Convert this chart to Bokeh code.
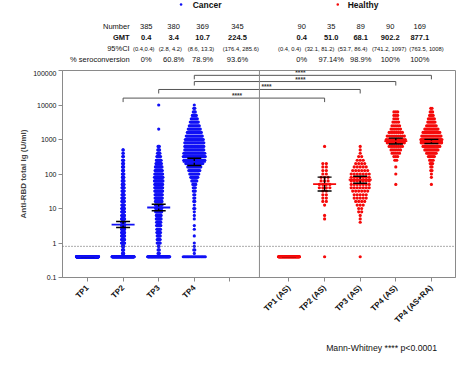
import math
import numpy as np
from bokeh.plotting import figure
from bokeh.layouts import column
from bokeh.models import Range1d, FixedTicker, Span, LinearAxis
from bokeh.embed import file_html
from bokeh.resources import INLINE
from bokeh.core.properties import value

# ---------------- data ----------------
cancer_names = ["TP1", "TP2", "TP3", "TP4"]
healthy_names = ["TP1 (AS)", "TP2 (AS)", "TP3 (AS)", "TP4 (AS)", "TP4 (AS+RA)"]

cancer_n = [385, 380, 369, 345]
cancer_gmt = [0.4, 3.4, 10.7, 224.5]
cancer_ci_low = [0.4, 2.8, 8.6, 176.4]
cancer_ci_high = [0.4, 4.2, 13.3, 285.6]
cancer_ci_text = ["(0.4,0.4)", "(2.8, 4.2)", "(8.6, 13.3)", "(176.4, 285.6)"]
cancer_sero = [0, 60.8, 78.9, 93.6]

healthy_n = [90, 35, 89, 90, 169]
healthy_gmt = [0.4, 51.0, 68.1, 902.2, 877.1]
healthy_ci_low = [0.4, 32.1, 53.7, 741.2, 763.5]
healthy_ci_high = [0.4, 81.2, 86.4, 1097, 1008]
healthy_ci_text = ["(0.4, 0.4)", "(32.1, 81.2)", "(53.7, 86.4)", "(741.2, 1097)", "(763.5, 1008)"]
healthy_sero = [0, 97.14, 98.9, 100, 100]

# individual values, as {value (U/ml): number of points at that value}
cancer_tp1 = {0.4: 385}
cancer_tp2 = {0.4: 145, 0.5: 5, 0.63: 5, 0.8: 5, 1: 11, 1.26: 11, 1.6: 11, 2: 11,
              2.5: 11, 3.2: 11, 4: 11, 5: 11, 6.3: 10, 8: 10, 10: 10, 12.6: 9,
              16: 9, 20: 9, 25: 8, 32: 8, 40: 8, 50: 7, 63: 7, 80: 6, 100: 6,
              126: 5, 160: 5, 200: 4, 250: 4, 320: 3, 400: 2, 500: 2}
cancer_tp3 = {0.4: 72, 0.5: 3, 0.63: 3, 0.8: 2, 1: 6, 1.26: 6, 1.6: 6, 2: 7, 2.5: 7,
              3.2: 8, 4: 8, 5: 9, 6.3: 9, 8: 11, 10: 11, 12.6: 12, 16: 12, 20: 13,
              25: 13, 32: 14, 40: 14, 50: 14, 63: 15, 80: 15, 100: 14, 126: 13,
              160: 12, 200: 10, 250: 9, 320: 7, 400: 5, 500: 4, 630: 3, 2000: 1,
              10000: 1}
cancer_tp4 = {0.4: 17, 0.5: 1, 0.63: 2, 0.8: 1, 1: 1, 1.6: 1, 2.5: 1, 3.2: 1, 5: 1,
              6.3: 1, 8: 1, 10: 2, 12.6: 1, 16: 2, 20: 2, 25: 2, 32: 3, 40: 3,
              50: 4, 63: 6, 80: 8, 100: 10, 126: 12, 160: 14, 200: 18, 250: 22,
              320: 24, 400: 22, 500: 20, 630: 20, 800: 20, 1000: 19, 1260: 17,
              1600: 15, 2000: 13, 2500: 11, 3200: 9, 4000: 7, 5000: 5, 6300: 3,
              8000: 2, 10000: 1}
healthy_tp1 = {0.4: 90}
healthy_tp2 = {0.4: 1, 5: 1, 6.3: 1, 12.6: 1, 16: 2, 20: 2, 25: 2, 32: 2, 40: 4,
               50: 4, 63: 3, 80: 3, 100: 2, 126: 2, 160: 2, 200: 2, 630: 1}
healthy_tp3 = {0.4: 1, 4: 1, 5: 1, 6.3: 1, 8: 2, 10: 2, 12.6: 3, 16: 4, 20: 5,
               25: 5, 32: 6, 40: 7, 50: 7, 63: 7, 80: 7, 100: 7, 126: 6, 160: 5,
               200: 4, 250: 3, 320: 2, 400: 1, 500: 1, 630: 1}
healthy_tp4 = {50: 1, 100: 1, 160: 1, 250: 2, 320: 3, 400: 5, 500: 6, 630: 8,
               800: 10, 1000: 11, 1260: 10, 1600: 8, 2000: 6, 2500: 5, 3200: 4,
               4000: 3, 5000: 3, 6300: 3}
healthy_tp4b = {50: 1, 80: 1, 100: 1, 126: 2, 160: 2, 200: 3, 250: 4, 320: 6,
                400: 9, 500: 12, 630: 15, 800: 18, 1000: 20, 1260: 17, 1600: 15,
                2000: 12, 2500: 9, 3200: 7, 4000: 6, 5000: 4, 6300: 3, 8000: 2}

cancer_values = [cancer_tp1, cancer_tp2, cancer_tp3, cancer_tp4]
healthy_values = [healthy_tp1, healthy_tp2, healthy_tp3, healthy_tp4, healthy_tp4b]

y_ticks = [0.1, 1, 10, 100, 1000, 10000, 100000]
y_tick_labels = ["0.1", "1", "10", "100", "1000", "10000", "100000"]
threshold = 0.8
row_titles = ["Number", "GMT", "95%CI", "% seroconversion"]
legend_names = ["Cancer", "Healthy"]
test_note = "Mann-Whitney **** p<0.0001"
stars = "****"

# ---------------- layout ----------------
BLUE = "#1010f5"
RED = "#f50a0a"
GRAY = "#8a8a8a"
FONT = "Liberation Sans"
W = 474
PX = 35.6            # screen px per x unit
X1PIX = 87           # screen x of x = 1
FRAME_L, FRAME_R = 62, 455
TOP_H = 70
cancer_x = [1, 2, 3, 4]
blank_x = 5
healthy_x = [round(6.66 + i, 2) for i in range(5)]
divider_x = 5.83


def px2x(px):
    return 1 + (px - X1PIX) / PX


# ---------- header figure: legend + summary table ----------
top = figure(width=W, height=TOP_H, output_backend="svg", toolbar_location=None,
             x_range=Range1d(px2x(0), px2x(W)), y_range=Range1d(TOP_H, 0),
             x_axis_location=None, y_axis_location=None,
             min_border_left=0, min_border_right=0, min_border_top=0, min_border_bottom=0)
top.outline_line_color = None
top.grid.grid_line_color = None

row_y = [26, 37, 48, 59]
row_size = ["7.5px", "7.5px", "5.8px", "7.5px"]
row_style = ["normal", "bold", "normal", "normal"]
title_x = px2x(81)
for t, ry, st in zip(row_titles, row_y, row_style):
    top.text(x=[title_x], y=[ry], text=[t], text_font=value(FONT),
             text_font_size="7.5px", text_align="right", text_baseline="middle",
             text_color="#111111", text_font_style=st)

cancer_col_px = [101, 134, 169, 211]
col_x = [px2x(c) for c in cancer_col_px] + healthy_x
ci_col_px = [98, 130, 167, 215, 274, 310, 350, 394, 439]
ci_x = [px2x(c) for c in ci_col_px]
all_n = cancer_n + healthy_n
all_gmt = cancer_gmt + healthy_gmt
all_ci = cancer_ci_text + healthy_ci_text
all_sero = cancer_sero + healthy_sero
cells = [[str(n) for n in all_n], [f"{g:.1f}" for g in all_gmt], all_ci,
         [f"{s:g}%" for s in all_sero]]
row_x = [col_x, col_x, ci_x, col_x]
for row, xs_, ry, fs, st in zip(cells, row_x, row_y, row_size, row_style):
    top.text(x=xs_, y=[ry] * len(xs_), text=row, text_font=value(FONT),
             text_font_size=fs, text_align="center", text_baseline="middle",
             text_color="#111111", text_font_style=st)

leg_y = 4
leg_dot_x = [px2x(143), px2x(332)]
leg_txt_x = [px2x(157), px2x(344)]
top.scatter(leg_dot_x, [leg_y, leg_y], marker="circle", size=2.6,
            fill_color=[BLUE, RED], line_color=None)
top.text(x=leg_txt_x, y=[leg_y, leg_y], text=legend_names, text_font=value(FONT),
         text_font_size="8.5px", text_font_style="bold", text_align="left",
         text_baseline="middle", text_color="#111111")

# ---------- main figure ----------
p = figure(width=W, height=365 - TOP_H, output_backend="svg", toolbar_location=None,
           y_axis_type="log", x_range=Range1d(px2x(FRAME_L), px2x(FRAME_R)),
           y_range=Range1d(0.1, 100000),
           min_border_left=FRAME_L, min_border_right=W - FRAME_R, min_border_top=0,
           min_border_bottom=88)
p.background_fill_color = "white"
p.border_fill_color = "white"
p.outline_line_color = GRAY
p.grid.grid_line_color = None

p.yaxis.ticker = FixedTicker(ticks=y_ticks)
p.yaxis.major_label_overrides = {t: l for t, l in zip(y_ticks, y_tick_labels)}
p.xaxis.ticker = FixedTicker(ticks=cancer_x + [blank_x] + healthy_x)
xo = {x: n for x, n in zip(cancer_x, cancer_names)}
xo[blank_x] = ""
xo.update({x: n for x, n in zip(healthy_x, healthy_names)})
p.xaxis.major_label_overrides = xo
for ax in (p.xaxis, p.yaxis):
    ax.axis_line_color = GRAY
    ax.major_tick_line_color = GRAY
    ax.minor_tick_line_color = None
    ax.major_tick_in = 0
    ax.major_tick_out = 4
    ax.major_label_text_font = FONT
    ax.major_label_text_color = "#111111"
p.yaxis.major_label_text_font_size = "7px"
p.yaxis.major_label_standoff = 2
p.yaxis.axis_label = "Anti-RBD total Ig (U/ml)"
p.yaxis.axis_label_text_font = FONT
p.yaxis.axis_label_text_font_size = "8px"
p.yaxis.axis_label_text_font_style = "bold"
p.yaxis.axis_label_standoff = 2
p.xaxis.major_label_orientation = math.pi / 4
p.xaxis.major_label_text_font_size = "8px"
p.xaxis.major_label_text_font_style = "bold"
p.xaxis.major_label_standoff = 5

note_x = round(px2x(381), 2)
note_axis = LinearAxis(ticker=FixedTicker(ticks=[note_x]),
                       major_label_overrides={note_x: test_note},
                       axis_line_color=None, major_tick_line_color=None,
                       minor_tick_line_color=None, major_label_standoff=6,
                       major_label_text_font=FONT, major_label_text_font_size="8.7px",
                       major_label_text_color="#111111")
p.add_layout(note_axis, "below")

p.add_layout(Span(location=divider_x, dimension="height", line_color=GRAY, line_width=1))
p.add_layout(Span(location=threshold, dimension="width", line_color="#555555",
                  line_width=1, line_dash="1 2"))


def swarm(center, counts, spread_px, cap_px):
    xs, ys = [], []
    for lvl, n in counts.items():
        if lvl == 0.4 and n > 3:
            half = cap_px
        else:
            half = min(cap_px, spread_px * (n - 1) / 2)
        offs = np.linspace(-half, half, n) if n > 1 else [0.0]
        xs += [center + o / PX for o in offs]
        ys += [lvl] * n
    return xs, ys


cancer_spread = [1.0, 0.3, 0.6, 1.0]
healthy_spread = [1.0, 3.5, 3.0, 1.9, 1.2]

groups = []
for x, vals, sp, g, lo, hi in zip(cancer_x, cancer_values, cancer_spread, cancer_gmt,
                                  cancer_ci_low, cancer_ci_high):
    groups.append((x, vals, sp, 11, BLUE, g, lo, hi))
for x, vals, sp, g, lo, hi in zip(healthy_x, healthy_values, healthy_spread, healthy_gmt,
                                  healthy_ci_low, healthy_ci_high):
    groups.append((x, vals, sp, 10.5, RED, g, lo, hi))

for x, vals, sp, cap, col, g, lo, hi in groups:
    xs, ys = swarm(x, vals, sp, cap)
    p.scatter(xs, ys, marker="circle", size=3.2, fill_color=col, line_color=None)

for x, vals, sp, cap, col, g, lo, hi in groups:
    cw = 7 / PX
    p.segment(x0=[x, x - cw, x - cw], x1=[x, x + cw, x + cw], y0=[lo, lo, hi], y1=[hi, lo, hi],
              line_color="black", line_width=1.4)
    mw = 11.5 / PX
    p.segment(x0=[x - mw], x1=[x + mw], y0=[g], y1=[g], line_color=col, line_width=1.8)

# significance brackets: (cancer index, healthy index, log10 level, star x)
brackets = [(3, 4, 4.86, 6.98), (3, 3, 4.68, 6.98), (2, 2, 4.45, 6.03), (1, 1, 4.2, 5.2)]
drop = 10 ** (-4 / 34.5)
for ci, hi_, lvl, sx in brackets:
    yl = 10 ** lvl
    x0, x1 = cancer_x[ci], healthy_x[hi_]
    p.line([x0, x0, x1, x1], [yl * drop, yl, yl, yl * drop], line_color="#555555", line_width=1)
    p.text(x=[sx], y=[yl], text=[stars], text_font=value(FONT), text_font_size="6.5px",
           text_font_style="bold", text_align="center", text_baseline="bottom",
           text_color="#333333", y_offset=1)

layout = column(top, p, spacing=0)
open("out.html", "w").write(file_html(layout, INLINE))
